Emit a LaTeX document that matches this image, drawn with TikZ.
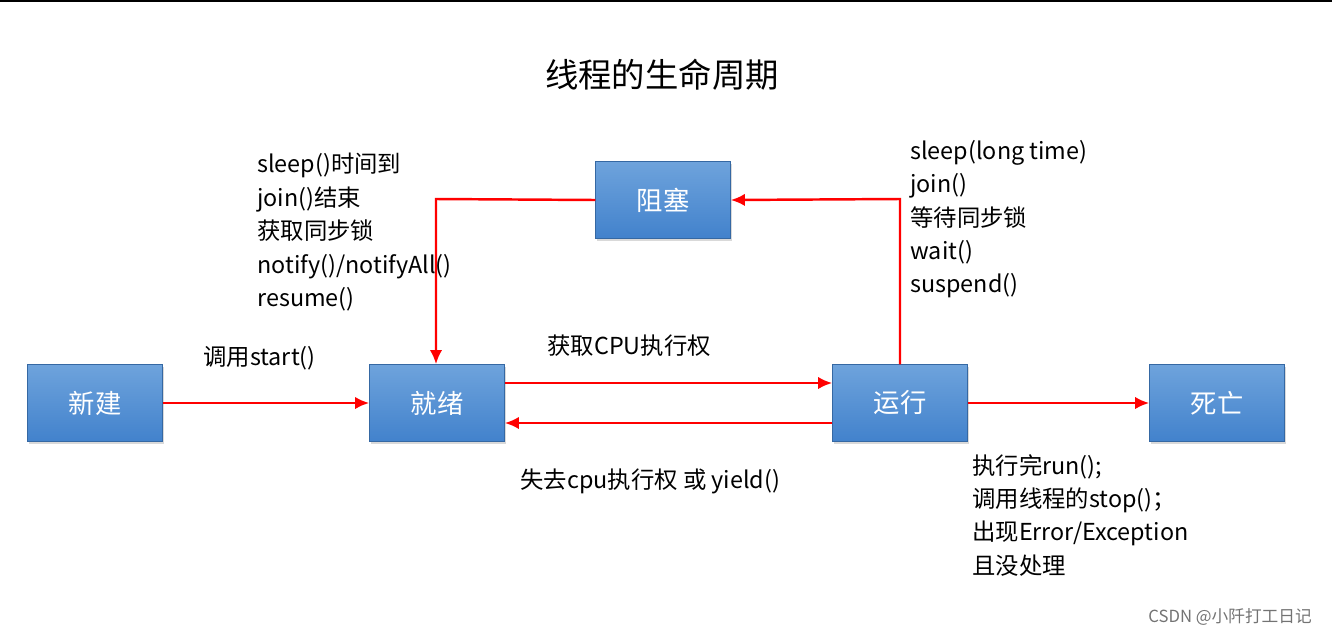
\documentclass[tikz,border=0pt]{standalone}
\usepackage{fontspec}
\setmainfont{Noto Sans CJK SC}
\usetikzlibrary{arrows.meta,shadows}
\definecolor{boxtop}{RGB}{110,163,220}
\definecolor{boxbot}{RGB}{66,130,204}
\begin{document}
\begin{tikzpicture}[x=0.02cm,y=-0.02cm,
state/.style = {% blue state boxes
    minimum width=2.7cm, minimum height=1.54cm, inner sep=0pt,
    top color=boxtop, bottom color=boxbot,
    draw=boxbot!80!black, line width=0.3pt, text=white, font=\fontsize{15}{17}\selectfont,
    drop shadow={shadow xshift=1pt, shadow yshift=-1.5pt, opacity=0.3},
            },
tr/.style = {% transitions
    draw=red, line width=1.4pt, -{Latex[length=8pt,width=7pt]},
            },
lb/.style = {% labels
    inner sep=0pt, align=left, font=\fontsize{13.3}{19}\selectfont,
            },                        ]

  \useasboundingbox (0,0) rectangle (1332,636);
  \draw[line width=1.2pt] (0,0.5) -- (1332,0.5);

  \node[font=\fontsize{19}{21}\selectfont] (title) at (662,75) {线程的生命周期};

  \node[state] (new)     at (95,403)   {新建};
  \node[state] (ready)   at (437,403)  {就绪};
  \node[state] (blocked) at (663,200)  {阻塞};
  \node[state] (running) at (900,403)  {运行};
  \node[state] (dead)    at (1217,403) {死亡};

  \coordinate (c1) at (900,199);
  \coordinate (c2) at (436,199);

  \draw[tr] (new) -- (ready);
  \draw[tr] (ready.east |- 0,383) -- (running.west |- 0,383);
  \draw[tr] (running.west |- 0,423) -- (ready.east |- 0,423);
  \draw[tr] (running.north) -- (c1) -- (blocked.east);
  \draw[tr] (blocked.west) -- (c2) -- (ready.north -| c2);
  \draw[tr] (running) -- (dead);

  \node[lb, anchor=west] (lstart) at (203,358) {调用start()};
  \node[lb, anchor=west] (lget) at (547,346) {获取CPU执行权};
  \node[lb, anchor=west] (llose) at (520,481) {失去cpu执行权 或 yield()};
  \node[lb, anchor=north west] (lwake) at (257,153)
    {sleep()时间到\\join()结束\\获取同步锁\\notify()/notifyAll()\\resume()};
  \node[lb, anchor=north west] (lblock) at (910,140)
    {sleep(long time)\\join()\\等待同步锁\\wait()\\suspend()};
  \node[lb, anchor=north west] (lend) at (972,454)
    {执行完run();\\调用线程的stop()；\\出现Error/Exception\\且没处理};

  \node[anchor=east, text=black!55, font=\fontsize{9.5}{10}\selectfont] (mark) at (1318,617) {CSDN @小阡打工日记};

\end{tikzpicture}
\end{document}
